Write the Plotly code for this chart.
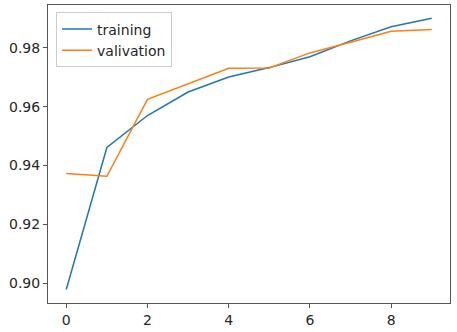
import plotly.graph_objects as go

epochs = list(range(10))
training = [0.8978, 0.9461, 0.9570, 0.9650, 0.9701, 0.9733, 0.9770, 0.9824, 0.9872, 0.9901]
valivation = [0.9373, 0.9363, 0.9625, 0.9677, 0.9731, 0.9732, 0.9783, 0.9819, 0.9857, 0.9863]

x_ticks = [0, 2, 4, 6, 8]
y_ticks = [0.90, 0.92, 0.94, 0.96, 0.98]

fig = go.Figure()
fig.add_trace(go.Scatter(x=epochs, y=training, mode="lines", name="training",
                         line=dict(color="#1f77b4", width=1.5)))
fig.add_trace(go.Scatter(x=epochs, y=valivation, mode="lines", name="valivation",
                         line=dict(color="#ff7f0e", width=1.5)))

font = dict(family="DejaVu Sans", size=14, color="#262626")
axis_style = dict(showgrid=False, zeroline=False, showline=True, linecolor="#555555",
                  linewidth=1, mirror=True, ticks="outside", ticklen=4,
                  tickcolor="#555555", tickfont=font)

fig.update_layout(
    width=457, height=332,
    margin=dict(l=48, r=7, t=4, b=24),
    plot_bgcolor="white", paper_bgcolor="white",
    font=font,
    xaxis=dict(range=[-0.45, 9.45], tickvals=x_ticks,
               ticktext=[str(v) for v in x_ticks], **axis_style),
    yaxis=dict(range=[0.8932, 0.9946], tickvals=y_ticks,
               ticktext=[f"{v:.2f}" for v in y_ticks], **axis_style),
    legend=dict(x=0.02, y=0.975, xanchor="left", yanchor="top",
                bgcolor="rgba(255,255,255,0.8)", bordercolor="#cccccc", borderwidth=1,
                font=font, tracegroupgap=0),
    showlegend=True,
)

fig.write_html("out.html")
